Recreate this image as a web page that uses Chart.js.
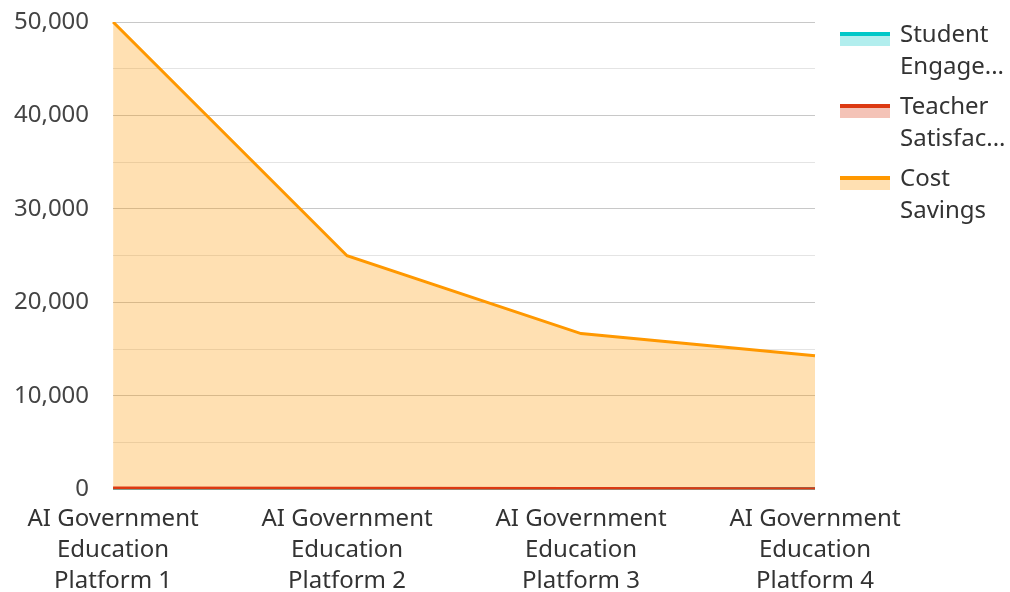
<!DOCTYPE html>
<html><head><meta charset="utf-8">
<script src="https://cdn.jsdelivr.net/npm/chart.js@4"></script>
<style>
html,body{margin:0;padding:0;background:#fff;}
#wrap{position:relative;width:1010px;height:592px;}
#legend{position:absolute;left:840px;top:17px;font-family:"Noto Sans";font-size:24px;color:#333;line-height:32px;}
.item{display:flex;align-items:flex-start;margin-bottom:8px;}
.sw{width:50px;height:14px;margin-top:15px;margin-right:10px;box-sizing:border-box;border-top:4px solid;}
</style></head>
<body><div id="wrap"><canvas id="c" width="1010" height="592"></canvas><div id="legend"></div></div>
<script>
const categories = [["AI Government","Education","Platform 1"],["AI Government","Education","Platform 2"],["AI Government","Education","Platform 3"],["AI Government","Education","Platform 4"]];
const seriesNames = ["Student Engagement","Teacher Satisfaction","Cost Savings"];
const legendLines = [["Student","Engage..."],["Teacher","Satisfac..."],["Cost","Savings"]];
const studentEngagement = [80, 75, 82, 85];
const teacherSatisfaction = [160, 120, 90, 70];
const costSavings = [50000, 25000, 16667, 14300];
const lineColors = ["#00c8c8","#dc3912","#ff9800"];
const fillColors = ["rgba(0,200,200,0.3)","rgba(220,57,18,0.3)","rgba(255,152,0,0.3)"];
const values = [studentEngagement, teacherSatisfaction, costSavings];
const drawOrder = [2, 1, 3];

const ds = values.map((v,i)=>({label:seriesNames[i],data:v,borderColor:lineColors[i],backgroundColor:fillColors[i],borderWidth:3,fill:'origin',pointRadius:0,tension:0,order:drawOrder[i]}));

new Chart(document.getElementById('c'),{
 type:'line',
 data:{labels:categories,datasets:ds},
 options:{responsive:false,animation:false,
  layout:{padding:{left:-10,right:195,top:22,bottom:-11}},
  plugins:{legend:{display:false},tooltip:{enabled:false}},
  scales:{
   x:{grid:{display:false},border:{display:false},offset:false,
      afterFit:(s)=>{s.paddingTop=0;},
      ticks:{font:{family:"Noto Sans",size:24,lineHeight:1.3},color:"#333",maxRotation:0,autoSkip:false,padding:6}},
   y:{min:0,max:50000,border:{display:false},
      afterFit:(s)=>{s.paddingTop=0;},
      ticks:{stepSize:5000,font:{family:"Noto Sans",size:24},color:"#444",padding:24,
        callback:(v)=> v%10000===0 ? v.toLocaleString('en-US') : ''},
      grid:{color:(ctx)=> ctx.tick && ctx.tick.value%10000===0 ? '#c8c8c8' : '#e4e4e4',lineWidth:1,drawTicks:false}}
  }}
});
const lg=document.getElementById('legend');
legendLines.forEach((l,i)=>{
 const d=document.createElement('div');d.className='item';
 const s=document.createElement('div');s.className='sw';s.style.borderTopColor=lineColors[i];s.style.background=fillColors[i];
 const t=document.createElement('div');t.innerHTML=l.join('<br>');
 d.appendChild(s);d.appendChild(t);lg.appendChild(d);
});
</script></body></html>
